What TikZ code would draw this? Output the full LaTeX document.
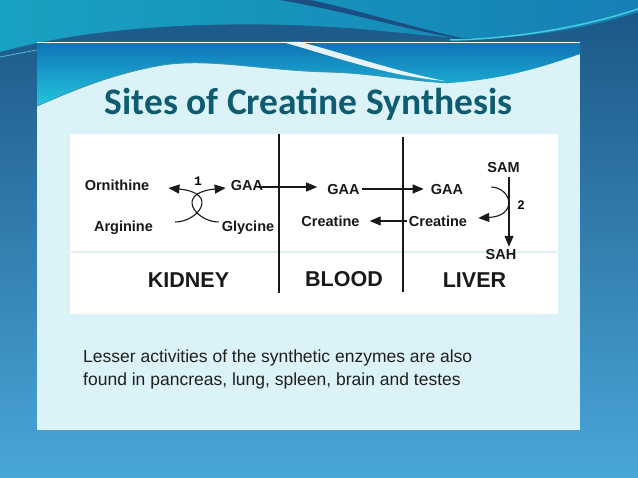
\documentclass[tikz,border=0pt]{standalone}
\usepackage{fontspec}
\setmainfont{Liberation Sans}
\newfontfamily\titlefont{Carlito}
\newfontfamily\codefont{Liberation Mono}
\usetikzlibrary{arrows.meta,calc}
\definecolor{bgtop}{HTML}{1A5686}
\definecolor{bgbot}{HTML}{4AA6D8}
\definecolor{tealA}{HTML}{18A2C2}
\definecolor{tealB}{HTML}{1680B4}
\definecolor{swoosh}{HTML}{1B4E80}
\definecolor{panel}{HTML}{DBF3F8}
\definecolor{hdrtop}{HTML}{0E74B6}
\definecolor{hdrbot}{HTML}{24C6DE}
\definecolor{titlec}{HTML}{0D5C6F}
\definecolor{seam}{HTML}{E2EDF0}
\begin{document}
\begin{tikzpicture}[x=1pt,y=-1pt,
  lbl/.style={inner sep=0pt,text height=10pt,text depth=0pt,font=\fontsize{14.5}{17}\selectfont\bfseries,text=black!90},
  big/.style={inner sep=0pt,text height=15pt,text depth=0pt,font=\fontsize{21.5}{25}\selectfont\bfseries,text=black!90},
  note/.style={inner sep=0pt,anchor=west,font=\fontsize{17.5}{23}\selectfont,text=black!88},
  arr/.style={-{Triangle[length=11pt,width=9pt]},line width=1.1pt,black!90},
  divider/.style={line width=1.4pt,black!90}]
\useasboundingbox (0,0) rectangle (638,478);
% background
\shade[top color=bgtop,bottom color=bgbot] (0,0) rectangle (638,478);
\shade[left color=tealA,right color=tealB]
  (0,0) -- (638,0) -- (638,12) .. controls (600,25) and (540,38) .. (470,38)
  .. controls (430,38) and (380,28) .. (290,25)
  .. controls (180,22) and (80,30) .. (0,52) -- cycle;
\fill[swoosh] (280,0) .. controls (360,14) and (420,34) .. (470,40)
  .. controls (415,28) and (350,8) .. (310,0) -- cycle;
\draw[line width=1.5pt,color={rgb,255:red,70;green,205;blue,225}]
  (450,40) .. controls (520,39) and (590,25) .. (638,9);
\draw[line width=0.8pt,color={rgb,255:red,80;green,190;blue,210}] (0,57) -- (37,50);
% panel
\fill[panel] (37,42) rectangle (580,430);
\shade[top color=hdrtop,bottom color=hdrbot]
  (37,42) -- (580,42) -- (580,54) .. controls (540,68) and (500,80) .. (448,83)
  .. controls (400,80) and (370,73) .. (326,72)
  .. controls (260,70) and (210,58) .. (163,65)
  .. controls (110,74) and (70,92) .. (37,106) -- cycle;
\fill[white,opacity=0.9] (282,42) .. controls (330,55) and (385,76) .. (445,81)
  .. controls (390,70) and (340,52) .. (300,42) -- cycle;
\draw[line width=0.8pt,color={rgb,255:red,60;green,150;blue,170}]
  (37,106) .. controls (70,92) and (110,74) .. (163,65)
  .. controls (210,58) and (260,70) .. (326,72)
  .. controls (370,73) and (400,80) .. (448,83);
\draw[white,line width=1pt] (37,42.5) -- (580,42.5);
% title
\node[inner sep=0pt,anchor=base,text=titlec,font=\titlefont\bfseries\fontsize{37.5}{44}\selectfont] (title) at (308.5,115) {Sites of Creatine Synthesis};
% white diagram box
\fill[white] (70,134) rectangle (558,314);
\draw[seam,line width=1.5pt] (71,252) -- (557,252);
\coordinate (d1top) at (279,134);
\coordinate (d1bot) at (279,293);
\coordinate (d2top) at (403,137);
\coordinate (d2bot) at (403,292);
\draw[divider] (d1top) -- (d1bot);
\draw[divider] (d2top) -- (d2bot);
% labels
\node[lbl] (orn) at (117,186) {Ornithine};
\node[lbl] (arg) at (123.5,227) {Arginine};
\node[inner sep=0pt,font=\codefont\bfseries\fontsize{13}{15}\selectfont] (one) at (198,181) {1};
\node[lbl] (gaak) at (247,186) {GAA};
\node[lbl] (gly) at (248,227) {Glycine};
\node[lbl] (gaab) at (343.5,190) {GAA};
\node[lbl] (creb) at (330.5,222) {Creatine};
\node[lbl] (gaal) at (447,190) {GAA};
\node[lbl] (crel) at (438,222) {Creatine};
\node[lbl] (sam) at (503.5,168) {SAM};
\node[lbl] (sah) at (501,255) {SAH};
\node[inner sep=0pt,font=\fontsize{12.5}{14}\selectfont\bfseries] (two) at (521,205) {2};
\node[big] (kidney) at (188.5,280) {KIDNEY};
\node[big] (blood) at (344,279) {BLOOD};
\node[big] (liver) at (474.5,280) {LIVER};
% arrows
\draw[arr] ($(arg.east)+(22,-5)$) .. controls (198,222) and (220,193) .. ($(orn.east)+(19,2)$);
\draw[arr] ($(gly.west)+(-3,-5)$) .. controls (196,222) and (174,193) .. ($(gaak.west)+(-5,2)$);
\draw[arr] ($(gaak.center)+(11,1)$) -- ($(gaab.west)+(-10,-3)$);
\draw[arr] ($(gaab.east)+(2,-1)$) -- ($(gaal.west)+(-7,-1)$);
\draw[arr] ($(crel.west)+(-2,-1)$) -- ($(creb.east)+(10,-1)$);
\draw[arr] ($(sam.south)+(5.5,4)$) -- ($(sah.north)+(8,-3)$);
\draw[arr] ($(gaal.east)+(28,-3)$) .. controls (512,188) and (518,216) .. ($(crel.east)+(11,-4)$);
% note
\node[note] (note1) at (83,358) {Lesser activities of the synthetic enzymes are also};
\node[note] (note2) at (83,381) {found in pancreas, lung, spleen, brain and testes};
\end{tikzpicture}
\end{document}
